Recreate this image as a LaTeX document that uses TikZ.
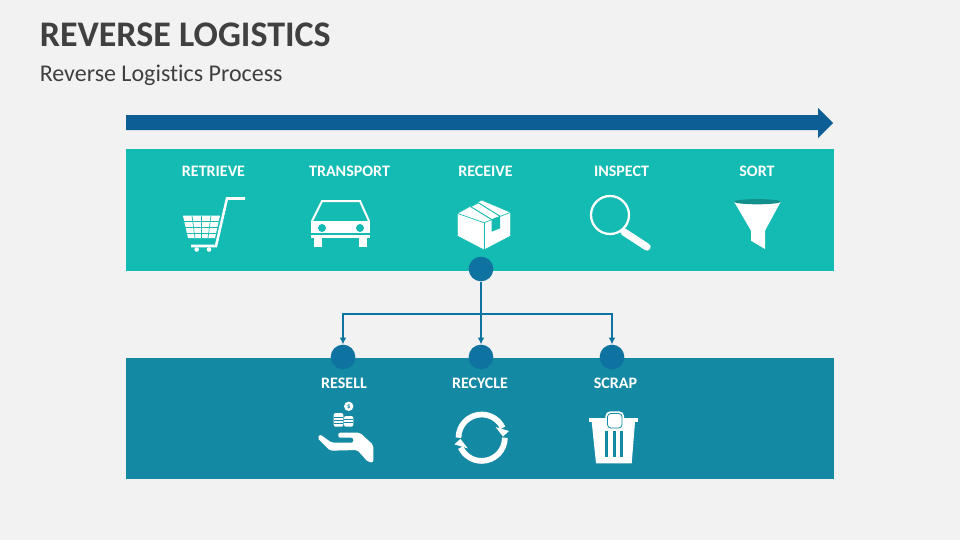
\documentclass[tikz,border=0pt]{standalone}
\usepackage{fontspec}
\setmainfont{Carlito}[Ligatures=NoCommon]
\usetikzlibrary{arrows.meta}
\definecolor{slidebg}{HTML}{F2F2F2}
\definecolor{inktext}{HTML}{404040}
\definecolor{bandtop}{HTML}{14BBB2}
\definecolor{bandlow}{HTML}{1389A3}
\definecolor{dotblue}{HTML}{0E73A0}
\definecolor{arrowblue}{HTML}{0E5E96}
\definecolor{funneltop}{HTML}{128F8A}
\tikzset{
  steplabel/.style={text=white,font=\fontsize{12}{14}\selectfont\bfseries,inner sep=0pt},
  branchdot/.style={circle,fill=dotblue,inner sep=0pt,minimum size=18.5pt},
  branchline/.style={draw=dotblue,line width=1.3pt,-{Latex[length=5pt,width=5pt]}},
  iconfill/.style={fill=white,draw=none},
}
\begin{document}
\begin{tikzpicture}[x=0.75pt,y=-0.75pt]
\useasboundingbox (0,0) rectangle (960,540);
\fill[slidebg] (0,0) rectangle (960,540);
% headings
\node[anchor=base west,inner sep=0pt,text=inktext,font=\fontsize{27}{32}\selectfont\bfseries] (title) at (39.5,46) {REVERSE LOGISTICS};
\node[anchor=base west,inner sep=0pt,text=inktext,font=\fontsize{18}{22}\selectfont] (subtitle) at (39.5,81) {Reverse Logistics Process};
% long arrow
\fill[arrowblue] (126,115) -- (818,115) -- (818,108) -- (833,123) -- (818,138) -- (818,130) -- (126,130) -- cycle;
% bands
\fill[bandtop] (126,149) rectangle (834,271);
\fill[bandlow] (126,358) rectangle (834,479);
% labels
\node[steplabel] (retrieve) at (213.5,171) {RETRIEVE};
\node[steplabel] (transport) at (349.5,171) {TRANSPORT};
\node[steplabel] (receive) at (485.5,171) {RECEIVE};
\node[steplabel] (inspect) at (621.5,171) {INSPECT};
\node[steplabel] (sort) at (757,171) {SORT};
\node[steplabel] (resell) at (344,383) {RESELL};
\node[steplabel] (recycle) at (480,383) {RECYCLE};
\node[steplabel] (scrap) at (615.5,383) {SCRAP};
% dots and connectors
\node[branchdot] (dotreceive) at (481,269) {};
\node[branchdot] (dotresell) at (343,357) {};
\node[branchdot] (dotrecycle) at (481,357) {};
\node[branchdot] (dotscrap) at (612,357) {};
\coordinate (fork) at (481,314);
\draw[branchline] (dotreceive) -- (dotrecycle);
\draw[branchline] (fork) -| (dotresell);
\draw[branchline] (fork) -| (dotscrap);
% cart
\draw[white,line width=1.9pt] (245,198.5) -- (227,198.5) -- (216,246) -- (191,246);
\fill[iconfill] (183,215.7) -- (220,215.7) -- (215,238) -- (188,238) -- cycle;
\draw[bandtop,line width=0.5pt] (184,221) -- (219,221);
\draw[bandtop,line width=0.5pt] (185,227) -- (218,227);
\draw[bandtop,line width=0.5pt] (186.5,233) -- (216.5,233);
\draw[bandtop,line width=0.5pt] (192,215.7) -- (195,238);
\draw[bandtop,line width=0.5pt] (201.5,215.7) -- (201.5,238);
\draw[bandtop,line width=0.5pt] (211,215.7) -- (208,238);
\fill[iconfill] (196.7,249.5) circle (2.3);
\fill[iconfill] (209,249.5) circle (2.3);
% car
\draw[white,line width=1.5pt] (312,221) -- (322,201) -- (360,201) -- (369,221);
\fill[iconfill] (311,220.7) rectangle (370,233);
\fill[iconfill] (311,235) rectangle (370,237.7);
\fill[iconfill] (314.3,237.7) rectangle (322.3,246.7);
\fill[iconfill] (359,237.7) rectangle (367,246.7);
\fill[bandtop] (322,228) circle (4);
\fill[bandtop] (360,228) circle (4);
% box
\fill[iconfill,draw=bandtop,line width=0.5pt] (457.3,213.3) -- (481.7,200) -- (510.7,212.3) -- (510.7,236) -- (484,250) -- (457.3,236) -- cycle;
\draw[bandtop,line width=0.5pt] (457.3,213.3) -- (484,222.7) -- (510.7,212.3);
\draw[bandtop,line width=0.5pt] (484,222.7) -- (484,250);
\draw[bandtop,line width=0.7pt] (470.7,206.7) -- (478.3,202.7);
\fill[bandtop] (491.7,219.5) -- (491.7,231.7) -- (500,228.3) -- (500,216.2) -- cycle;
\draw[bandtop,line width=0.7pt] (470.7,206.7) -- (491.7,219.5);
\draw[bandtop,line width=0.7pt] (478.3,202.7) -- (500,216.2);
% magnifier
\draw[white,line width=1.7pt] (610,215) circle (19);
\draw[white,line width=5.5pt,line cap=round] (624,232) -- (647,247);
% funnel
\fill[iconfill] (734,201.7) -- (780.7,201.7) -- (765,230.7) -- (765,249) -- (751,240.7) -- (751,230.7) -- cycle;
\fill[funneltop] (757.3,201.7) ellipse (23.4 and 2.6);
% hand
\fill[iconfill,rounded corners=1.5pt] (338.3,432.7) -- (360,432.7) -- (373.3,445) -- (373.3,462.5) -- (368,462) -- (357.3,450) -- (330,450.7) -- (317.3,438) -- (320,434.3) -- (331.7,442.7) -- (353.3,442.7) -- (353.3,437.7) -- (338.3,437.7) -- cycle;
% coins
\fill[iconfill] (348.7,406.3) circle (4.7);
\node[inner sep=0pt,text=bandlow,font=\fontsize{5}{5}\selectfont\bfseries] (coinsign) at (348.7,406.3) {\$};
\fill[iconfill,rounded corners=1.5pt] (333.7,413) rectangle (343.3,426.7);
\fill[iconfill,rounded corners=1.5pt] (344,416) rectangle (353.3,426.7);
\draw[bandlow,line width=0.4pt] (334,417) -- (343,417);
\draw[bandlow,line width=0.4pt] (334,420) -- (343,420);
\draw[bandlow,line width=0.4pt] (334,423) -- (343,423);
\draw[bandlow,line width=0.4pt] (344.3,419.5) -- (353,419.5);
\draw[bandlow,line width=0.4pt] (344.3,422.5) -- (353,422.5);
% recycle
\draw[white,line width=4.3pt] (481.7,437.7) ++(180:23.2) arc[start angle=180,end angle=335,radius=23.2];
\draw[white,line width=4.3pt] (481.7,437.7) ++(0:23.2) arc[start angle=0,end angle=155,radius=23.2];
\fill[iconfill] (495.5,427) -- (509,431) -- (503,436.5) -- cycle;
\fill[iconfill] (467.9,448.4) -- (454.4,444.4) -- (460.4,438.9) -- cycle;
% bin
\fill[iconfill] (589,418.3) rectangle (637.7,422);
\fill[iconfill] (591.7,422) -- (635,422) -- (631.7,463.3) -- (596,463.3) -- cycle;
\fill[bandlow] (605,430.7) rectangle (608.3,456.7);
\fill[bandlow] (612.7,430.7) rectangle (615.7,456.7);
\fill[bandlow] (620,430.7) rectangle (623.3,456.7);
\draw[white,fill=white,line width=0.8pt,rounded corners=3pt] (606,412) rectangle (623.5,429.5);
\draw[bandlow,line width=0.6pt,rounded corners=2.5pt] (607.5,413.5) rectangle (622,428);
\end{tikzpicture}
\end{document}
